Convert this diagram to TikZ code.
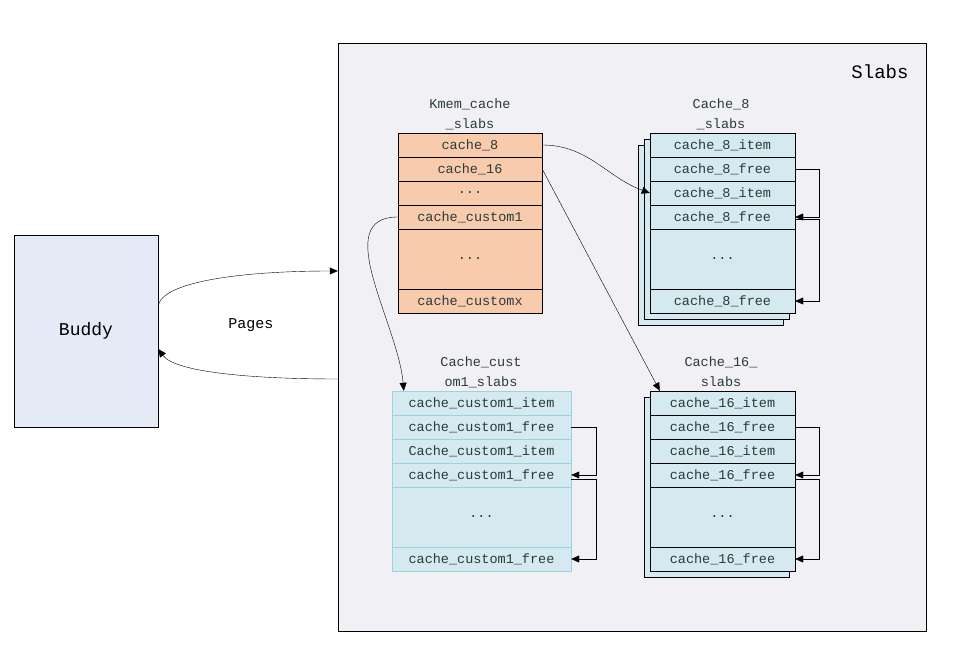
\documentclass[tikz,border=0pt]{standalone}
\usepackage{fontspec}
\setmainfont{Liberation Mono}
\usetikzlibrary{arrows.meta,positioning,calc}
\definecolor{buddyfill}{HTML}{E5EBF6}
\definecolor{slabfill}{HTML}{F1F0F4}
\definecolor{kmemfill}{HTML}{F8CBAD}
\definecolor{itemfill}{HTML}{D4EAF0}
\definecolor{itemline}{HTML}{9AD3DE}
\definecolor{txt}{HTML}{2B3A3A}
\newcommand{\rowfont}{\fontsize{13.5}{15}\selectfont}
\newcommand{\titlefont}{\fontsize{13.5}{20}\selectfont}
\begin{document}
\begin{tikzpicture}[x=1pt,y=-1pt,
    % Define styles
    kmem/.style={rectangle, draw, fill=kmemfill, minimum width=144pt, minimum height=24pt, inner sep=0pt, font=\rowfont, text=txt},
    item/.style={rectangle, draw, fill=itemfill, minimum width=145pt, minimum height=24pt, inner sep=0pt, font=\rowfont, text=txt},
    citem/.style={rectangle, draw=itemline, fill=itemfill, minimum width=179pt, minimum height=24pt, inner sep=0pt, font=\rowfont, text=txt},
    layer/.style={rectangle, draw, fill=itemfill},
    title/.style={align=center, font=\titlefont, text=txt, inner sep=0pt},
    arrow/.style={-{Triangle[length=8pt,width=7pt]}},
    loop/.style={-{Triangle[length=8pt,width=7pt]}}
]
\useasboundingbox (0,0) rectangle (954,652);

% Buddy and slabs area
\node[draw, fill=buddyfill, minimum width=144pt, minimum height=192pt, font=\fontsize{18}{20}\selectfont] (buddy) at (86,331) {Buddy};
\node[draw, fill=slabfill, minimum width=588pt, minimum height=588pt] (slabs) at (632,337) {};
\node[font=\fontsize{19}{21}\selectfont, anchor=east] (slabtitle) at (912,72) {Slabs};

% Kmem_cache_slabs
\node[title] (kmemtitle) at (470,114) {Kmem\_cache\\\_slabs};
\node[kmem] (k8) at (470,145) {cache\_8};
\node[kmem] (k16) at (470,169) {cache\_16};
\node[kmem] (kdots) at (470,193) {...};
\node[kmem] (kc1) at (470,217) {cache\_custom1};
\node[kmem, minimum height=60pt] (kdots2) at (470,259) {...};
\node[kmem] (kcx) at (470,301) {cache\_customx};

% Cache_8_slabs
\node[title] (c8title) at (721,114) {Cache\_8\\\_slabs};
\draw[layer] (638,145) rectangle (783,325);
\draw[layer] (644,139) rectangle (789,319);
\node[item] (a1) at (722.5,145) {cache\_8\_item};
\node[item] (a2) at (722.5,169) {cache\_8\_free};
\node[item] (a3) at (722.5,193) {cache\_8\_item};
\node[item] (a4) at (722.5,217) {cache\_8\_free};
\node[item, minimum height=60pt] (a5) at (722.5,259) {...};
\node[item] (a6) at (722.5,301) {cache\_8\_free};

% Cache_custom1_slabs
\node[title] (cctitle) at (481,372) {Cache\_cust\\om1\_slabs};
\node[citem] (b1) at (481.5,403) {cache\_custom1\_item};
\node[citem] (b2) at (481.5,427) {cache\_custom1\_free};
\node[citem] (b3) at (481.5,451) {Cache\_custom1\_item};
\node[citem] (b4) at (481.5,475) {cache\_custom1\_free};
\node[citem, minimum height=60pt] (b5) at (481.5,517) {...};
\node[citem] (b6) at (481.5,559) {cache\_custom1\_free};

% Cache_16_slabs
\node[title] (c16title) at (721,372) {Cache\_16\_\\slabs};
\draw[layer] (644,397) rectangle (789,577);
\node[item] (d1) at (722.5,403) {cache\_16\_item};
\node[item] (d2) at (722.5,427) {cache\_16\_free};
\node[item] (d3) at (722.5,451) {cache\_16\_item};
\node[item] (d4) at (722.5,475) {cache\_16\_free};
\node[item, minimum height=60pt] (d5) at (722.5,517) {...};
\node[item] (d6) at (722.5,559) {cache\_16\_free};

% Buddy <-> slabs
\draw[arrow] (buddy.east |- 0,305) .. controls (165,280) and (250,271) .. (slabs.west |- 0,271);
\draw[arrow] (slabs.west |- 0,379) .. controls (250,379) and (175,372) .. (buddy.east |- 0,349);
\node[font=\fontsize{15}{17}\selectfont] (pages) at (251,325) {Pages};

% Kmem -> slabs
\draw[arrow] (k8.east) to[out=0,in=160] (a3.west);
\draw[arrow] (k16.east) -- ($(d1.north west)+(10,0)$);
\draw[arrow] (kc1.west) to[out=180,in=95] ($(b1.north west)+(12,0)$);

% Free lists
\draw[loop] (a2.east) -- ++(24,0) |- (a4.east);
\draw[loop] ($(a4.east)+(0,2)$) -- ++(24,0) |- (a6.east);
\draw[loop] (b2.east) -- ++(25,0) |- (b4.east);
\draw[loop] ($(b4.east)+(0,4)$) -- ++(25,0) |- (b6.east);
\draw[loop] (d2.east) -- ++(24,0) |- (d4.east);
\draw[loop] ($(d4.east)+(0,4)$) -- ++(24,0) |- (d6.east);
\end{tikzpicture}
\end{document}
